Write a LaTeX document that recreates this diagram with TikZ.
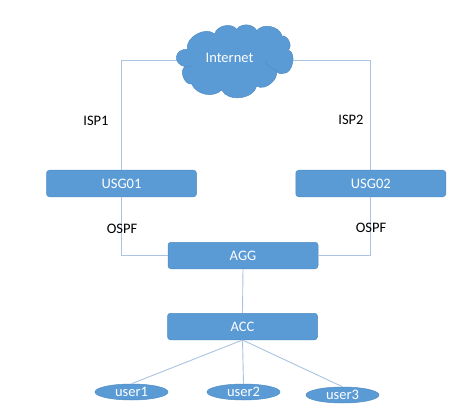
\documentclass[tikz,border=0pt]{standalone}
\usepackage{fontspec}
\setmainfont{Carlito}
\usetikzlibrary{shapes.geometric}
\definecolor{fillblue}{HTML}{5B9BD5}
\definecolor{edgeblue}{HTML}{4F8CC4}
\definecolor{linkblue}{HTML}{A9C4E2}
\tikzset{
  box/.style={draw=edgeblue,line width=0.5pt,fill=fillblue,rounded corners=3pt,minimum width=150pt,minimum height=26.5pt,inner sep=0pt,text=white,font=\fontsize{14.5}{16}\selectfont},
  userell/.style={ellipse,draw=edgeblue,line width=0.5pt,fill=fillblue,minimum width=73pt,minimum height=16pt,inner sep=0pt,text=white,font=\fontsize{14.5}{16}\selectfont},
  link/.style={draw=linkblue,line width=0.9pt},
  lbl/.style={text=black,inner sep=0pt,font=\fontsize{14.5}{16}\selectfont},
  lobe/.style={bend left=#1,looseness=1}
}
\begin{document}
\begin{tikzpicture}[x=1pt,y=-1pt]
\useasboundingbox[fill=white] (0,0) rectangle (474,417);
\coordinate (cL) at (178,60);
\coordinate (cR) at (290,60);
\node[box] (usg01) at (121.5,183.5) {USG01};
\node[box] (usg02) at (370.8,183.5) {USG02};
\node[box] (agg) at (243,255.5) {AGG};
\node[box] (acc) at (242.5,326.5) {ACC};
\node[userell] (user1) at (131.5,392) {user1};
\node[userell] (user2) at (243.5,392) {user2};
\node[userell] (user3) at (342.5,395) {user3};
\draw[link] (cL) -| (usg01.north);
\draw[link] (cR) -| (usg02.north);
\draw[link] (usg01.south) |- (agg.west);
\draw[link] (usg02.south) |- (agg.east);
\draw[link] (agg.south) -- (acc.north);
\draw[link] (acc.south) -- (user1.north);
\draw[link] (acc.south) -- (user2.north);
\draw[link] (acc.south) -- (user3.north);
\fill[fillblue,draw=edgeblue,line width=0.5pt] (187.3,49.3)
  to[lobe=70] (214.7,34)
  to[lobe=65] (236.7,29.3)
  to[lobe=60] (256.7,30.7)
  to[lobe=65] (282,36)
  to[lobe=75] (288.3,50)
  to[lobe=85] (283.3,73.3)
  to[lobe=50] (276,70)
  to[lobe=75] (256.7,86)
  to[lobe=70] (221.7,90)
  to[lobe=55] (191.7,84)
  to[lobe=80] (185,66.7)
  to[bend left=85,looseness=1.9] cycle;
\draw[edgeblue,line width=0.5pt] (276,70) to[bend left=25] (265,60);
\draw[edgeblue,line width=0.5pt] (185,66.7) to[bend right=15] (192,66);
\node[text=white,inner sep=0pt,font=\fontsize{14.5}{16}\selectfont] (internet) at (229.5,58) {Internet};
\node[lbl] (isp1) at (96,121) {ISP1};
\node[lbl] (isp2) at (351,120) {ISP2};
\node[lbl] (ospf1) at (122,229) {OSPF};
\node[lbl] (ospf2) at (371,228) {OSPF};
\end{tikzpicture}
\end{document}
